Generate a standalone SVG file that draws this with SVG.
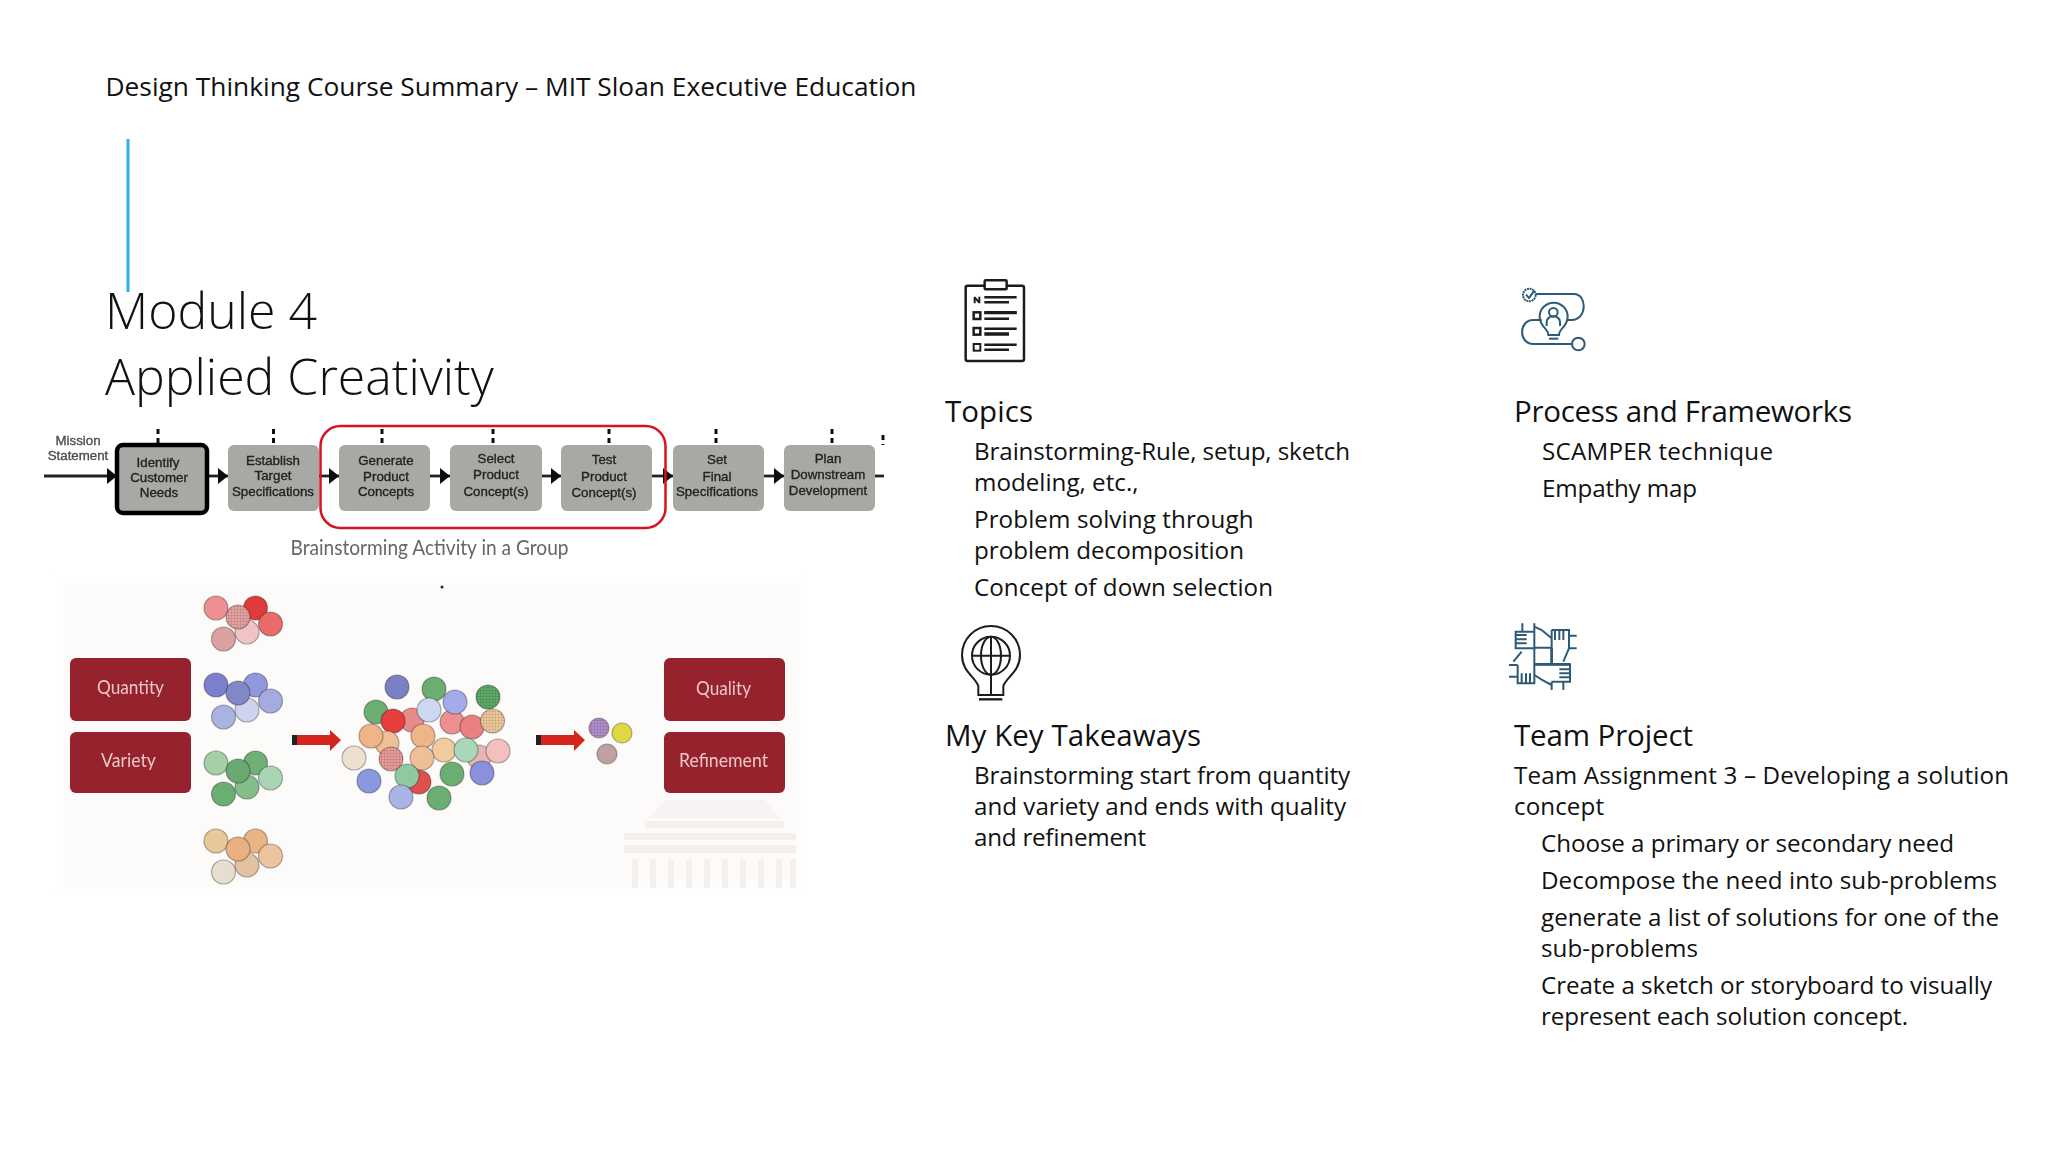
<svg xmlns="http://www.w3.org/2000/svg" width="2048" height="1152" viewBox="0 0 2048 1152">
<style>
text{font-family:"Open Sans","Noto Sans","Liberation Sans",sans-serif;fill:#111}
.t{font-size:26.3px}
.h{font-size:50px;font-weight:300}
.s{font-size:29.5px}
.b{font-size:24.2px;transform:translateY(-0.8px)}
.n{font-family:"Liberation Sans",Arial,sans-serif;font-size:13.3px;fill:#222;stroke:#222;stroke-width:.35;text-anchor:middle}
.m{fill:#4c4c4c;stroke:#4c4c4c}
.box{fill:#a8a8a5}
.con{stroke:#222;stroke-width:2.8;fill:none}
.con2{stroke:#111;stroke-width:3;stroke-dasharray:5 4;fill:none}
.rb{fill:#96202f}
.rt{font-family:"Lato","Open Sans",sans-serif;font-size:20px;fill:#ecc8c8}
circle.d{stroke:#000;stroke-opacity:.3;stroke-width:1.2}
.wm{fill:#f3f0ee}
.ic1{fill:none;stroke:#1c1c1c;stroke-width:7.5}
.ic2{fill:none;stroke:#2e5a78;stroke-width:6}
</style>
<defs>
<marker id="ah" markerWidth="10" markerHeight="16" refX="10" refY="8" orient="auto" markerUnits="userSpaceOnUse"><path d="M0 0L10 8L0 16Z" fill="#111"/></marker>
<pattern id="hat" width="3" height="3" patternUnits="userSpaceOnUse"><path d="M0 0H3M0 0V3" stroke="#000" stroke-opacity=".22" stroke-width=".8" fill="none"/></pattern>
<filter id="bl" x="-5%" y="-5%" width="110%" height="110%"><feGaussianBlur stdDeviation=".7"/></filter>
<filter id="bs" x="-5%" y="-5%" width="110%" height="110%"><feGaussianBlur stdDeviation=".55"/></filter>
<filter id="bg" x="-5%" y="-5%" width="110%" height="110%"><feGaussianBlur stdDeviation="5"/></filter>
</defs>
<rect width="2048" height="1152" fill="#fff"/>
<text class="t" x="105.500" y="96" textLength="811">Design Thinking Course Summary – MIT Sloan Executive Education</text>
<rect x="126.500" y="139" width="3" height="153" fill="#2bb3e6"/>
<text class="h" x="105" y="329">Module 4</text>
<text class="h" x="105" y="395">Applied Creativity</text>

<g id="process-chain" filter="url(#bl)">
<g id="connectors">
<path class="con" d="M44 476H117" marker-end="url(#ah)"/>
<path class="con" d="M207 476H228" marker-end="url(#ah)"/>
<path class="con" d="M319 476H339" marker-end="url(#ah)"/>
<path class="con" d="M430 476H450" marker-end="url(#ah)"/>
<path class="con" d="M542 476H561" marker-end="url(#ah)"/>
<path class="con" d="M652 476H673" marker-end="url(#ah)"/>
<path class="con" d="M764 476H784" marker-end="url(#ah)"/>
<path class="con" d="M875 476H884"/>
<path class="con2" d="M158 429V445M273.500 429V445M382 429V445M493 429V445M609 429V445M716 429V445M832 429V445M883 435V445"/>
</g>
<text class="n m"><tspan x="78" y="445">Mission</tspan><tspan x="78" y="460">Statement</tspan></text>
<g id="identify"><rect x="117" y="445" width="90" height="68" rx="6" fill="#a8a8a5" stroke="#000" stroke-width="4.500"/><text class="n"><tspan x="158" y="467">Identify</tspan><tspan x="159" y="482">Customer</tspan><tspan x="159" y="497">Needs</tspan></text></g>
<g id="establish"><rect class="box" x="228" y="445" width="91" height="66" rx="6"/><text class="n"><tspan x="273" y="465">Establish</tspan><tspan x="273" y="480">Target</tspan><tspan x="273" y="496">Specifications</tspan></text></g>
<g id="generate"><rect class="box" x="339" y="445" width="91" height="66" rx="6"/><text class="n"><tspan x="386" y="465">Generate</tspan><tspan x="386" y="481">Product</tspan><tspan x="386" y="496">Concepts</tspan></text></g>
<g id="select"><rect class="box" x="450" y="445" width="92" height="66" rx="6"/><text class="n"><tspan x="496" y="463">Select</tspan><tspan x="496" y="479">Product</tspan><tspan x="496" y="496">Concept(s)</tspan></text></g>
<g id="test"><rect class="box" x="561" y="445" width="91" height="66" rx="6"/><text class="n"><tspan x="604" y="464">Test</tspan><tspan x="604" y="481">Product</tspan><tspan x="604" y="497">Concept(s)</tspan></text></g>
<g id="set"><rect class="box" x="673" y="445" width="91" height="66" rx="6"/><text class="n"><tspan x="717" y="464">Set</tspan><tspan x="717" y="481">Final</tspan><tspan x="717" y="496">Specifications</tspan></text></g>
<g id="plan"><rect class="box" x="784" y="445" width="91" height="66" rx="6"/><text class="n"><tspan x="828" y="463">Plan</tspan><tspan x="828" y="479">Downstream</tspan><tspan x="828" y="495">Development</tspan></text></g>
</g>
<rect id="highlight" x="320.500" y="426" width="345" height="102" rx="20" fill="none" stroke="#d8121f" stroke-width="2.500"/>
<text x="290.500" y="555" font-size="22" textLength="278" lengthAdjust="spacingAndGlyphs" style="font-family:Lato,sans-serif;fill:#666" filter="url(#bs)">Brainstorming Activity in a Group</text>

<rect x="62" y="582" width="736" height="306" fill="#fdfbfa" filter="url(#bg)"/>
<g id="funnel" filter="url(#bs)">
<path class="wm" d="M665 800H765L780 818H649Z" fill-opacity=".7"/>
<rect class="wm" x="645" y="821" width="139" height="7"/><rect class="wm" x="624" y="833" width="172" height="7"/><rect class="wm" x="624" y="845" width="172" height="8"/>
<path class="wm" d="M632 859h6v29h-6zM650 859h6v29h-6zM668 859h6v29h-6zM686 859h6v29h-6zM704 859h6v29h-6zM722 859h6v29h-6zM740 859h6v29h-6zM758 859h6v29h-6zM776 859h6v29h-6zM790 859h6v29h-6z"/>
<circle cx="442" cy="587" r="1.500" fill="#222"/>
<g id="quantity"><rect class="rb" x="70" y="658" width="121" height="63" rx="6"/><text class="rt" x="97" y="694" textLength="67" lengthAdjust="spacingAndGlyphs">Quantity</text></g>
<g id="variety"><rect class="rb" x="70" y="732" width="121" height="61" rx="6"/><text class="rt" x="101" y="767" textLength="55" lengthAdjust="spacingAndGlyphs">Variety</text></g>
<g id="quality"><rect class="rb" x="664" y="658" width="121" height="63" rx="6"/><text class="rt" x="696" y="695" textLength="55" lengthAdjust="spacingAndGlyphs">Quality</text></g>
<g id="refinement"><rect class="rb" x="664" y="732" width="121" height="61" rx="6"/><text class="rt" x="679" y="767" textLength="89" lengthAdjust="spacingAndGlyphs">Refinement</text></g>
<g id="cluster-red">
<circle class="d" r="12" cx="216" cy="608" fill="#ee8f94"/><circle class="d" r="12" cx="255.500" cy="608" fill="#e03a3a"/><circle class="d" r="12" cx="270.500" cy="624" fill="#e86a6a"/><circle class="d" r="12" cx="223.500" cy="639" fill="#dba0a0"/><circle class="d" r="12" cx="247" cy="632" fill="#f0c4c4"/><circle class="d" r="12" cx="238" cy="617" fill="#e5a0a0"/><circle r="12" cx="238" cy="617" fill="url(#hat)"/>
</g>
<g id="cluster-blue">
<circle class="d" r="12" cx="216" cy="685" fill="#7c80cc"/><circle class="d" r="12" cx="255.500" cy="685" fill="#8f98dc"/><circle class="d" r="12" cx="270.500" cy="701" fill="#a4abe0"/><circle class="d" r="12" cx="223.500" cy="717" fill="#a9b3e0"/><circle class="d" r="12" cx="247" cy="710" fill="#cdd3ec"/><circle class="d" r="12" cx="238" cy="693" fill="#8088c8"/>
</g>
<g id="cluster-green">
<circle class="d" r="12" cx="216" cy="763" fill="#a5d0a5"/><circle class="d" r="12" cx="255.500" cy="763" fill="#6fb077"/><circle class="d" r="12" cx="270.500" cy="778" fill="#aad5b5"/><circle class="d" r="12" cx="223.500" cy="794" fill="#6aae72"/><circle class="d" r="12" cx="247" cy="787" fill="#84bd8a"/><circle class="d" r="12" cx="238" cy="771" fill="#6aaa70"/>
</g>
<g id="cluster-orange">
<circle class="d" r="12" cx="216" cy="841" fill="#e8c79a"/><circle class="d" r="12" cx="255.500" cy="841" fill="#e9b585"/><circle class="d" r="12" cx="270.500" cy="856" fill="#eec49e"/><circle class="d" r="12" cx="223.500" cy="872" fill="#e8ded0"/><circle class="d" r="12" cx="247" cy="865" fill="#e3c2a2"/><circle class="d" r="12" cx="238" cy="849" fill="#e9b182"/>
</g>
<g id="cluster-mixed">
<circle class="d" r="12" cx="397" cy="687" fill="#7a80c4"/><circle class="d" r="12" cx="434" cy="689" fill="#6aae72"/><circle class="d" r="12" cx="488" cy="697" fill="#5fa868"/><circle class="d" r="12" cx="452" cy="722" fill="#ee9090"/><circle class="d" r="12" cx="455" cy="702" fill="#a4abe8"/><circle class="d" r="12" cx="412" cy="720" fill="#e88a8a"/><circle class="d" r="12" cx="429" cy="710" fill="#cdd8f0"/><circle class="d" r="12" cx="376" cy="712" fill="#6aae72"/><circle class="d" r="12" cx="393" cy="721" fill="#e63c3c"/><circle class="d" r="12" cx="472" cy="727" fill="#ea8080"/><circle class="d" r="12" cx="492.500" cy="721" fill="#efc79a"/><circle class="d" r="12" cx="387" cy="743" fill="#efc098"/><circle class="d" r="12" cx="371" cy="736" fill="#efb588"/><circle class="d" r="12" cx="423" cy="736" fill="#efb588"/><circle class="d" r="12" cx="479" cy="757" fill="#e9b5b5"/><circle class="d" r="12" cx="444" cy="750" fill="#efcb9f"/><circle class="d" r="12" cx="466" cy="750" fill="#a8d8b8"/><circle class="d" r="12" cx="498" cy="751" fill="#f3c0c0"/><circle class="d" r="12" cx="354" cy="758" fill="#eee0d0"/><circle class="d" r="12" cx="391" cy="759" fill="#e89a9a"/><circle class="d" r="12" cx="422" cy="758" fill="#efc098"/><circle class="d" r="12" cx="482" cy="773" fill="#8a90dc"/><circle class="d" r="12" cx="452" cy="774" fill="#6aae72"/><circle class="d" r="12" cx="419" cy="782" fill="#e05050"/><circle class="d" r="12" cx="407" cy="776" fill="#8ec9a0"/><circle class="d" r="12" cx="369" cy="781" fill="#8a98e0"/><circle class="d" r="12" cx="401" cy="797" fill="#a8b4e4"/><circle class="d" r="12" cx="439" cy="798" fill="#6aae72"/>
<circle r="12" cx="488" cy="697" fill="url(#hat)"/><circle r="12" cx="492.500" cy="721" fill="url(#hat)"/><circle r="12" cx="391" cy="759" fill="url(#hat)"/>
</g>
<g id="cluster-final">
<circle class="d" r="10" cx="599" cy="728" fill="#b08cc8"/><circle r="10" cx="599" cy="728" fill="url(#hat)"/><circle class="d" r="10" cx="622" cy="733" fill="#e0d840"/><circle class="d" r="10" cx="607" cy="754" fill="#c0a0a0"/>
</g>
<g id="funnel-arrows">
<path d="M292 735H330V730L341 740L330 751V745H292Z" fill="#d4281c"/><rect x="292" y="735" width="5" height="10" fill="#222"/>
<path d="M536 735H574V730L585 740L574 751V745H536Z" fill="#d4281c"/><rect x="536" y="735" width="5" height="10" fill="#222"/>
</g>
</g>

<g id="topics">
<g transform="translate(940 270) scale(.3333)" class="ic1" filter="url(#bs)">
<rect x="77" y="47" width="175" height="226" rx="6"/><rect x="134" y="31" width="66" height="27" rx="3" fill="#fff"/>
<path d="M133 82H230M133 97H207M133 128H230" /><path d="M133 128H230M133 192H207" stroke-width="10"/><path d="M133 146H207M133 176H230M133 224H230M133 239H207"/>
<path d="M104 80V100M118 80V100M104 82L118 98" stroke-width="6"/><rect x="101" y="127" width="20" height="20"/><rect x="101" y="174" width="20" height="20"/><rect x="101" y="222" width="20" height="20" stroke-width="6"/>
</g>
<text class="s" x="945" y="422" textLength="88">Topics</text>
<text class="b" x="974" y="461" textLength="376">Brainstorming-Rule, setup, sketch</text>
<text class="b" x="974" y="492" textLength="164.500">modeling, etc.,</text>
<text class="b" x="974" y="529" textLength="279.500">Problem solving through</text>
<text class="b" x="974" y="560" textLength="270">problem decomposition</text>
<text class="b" x="974" y="597" textLength="299">Concept of down selection</text>
</g>
<g id="process">
<g transform="translate(1500 270) scale(.3333)" class="ic2" filter="url(#bs)">
<circle cx="88" cy="75" r="19" stroke-dasharray="6 2"/><path d="M78 74L87 84L103 62"/>
<path d="M108 72H222C262 72 262 150 215 150H200M125 150H100C55 150 55 222 100 222H215"/><circle cx="235" cy="222" r="19"/>
<path d="M145 195C145 175 119 170 119 140A42 42 0 0 1 203 140C203 170 177 175 177 195Z"/><path d="M147 206H175"/>
<circle cx="160" cy="127" r="13"/><path d="M140 168V155A20 16 0 0 1 180 155V168"/>
</g>
<text class="s" x="1514" y="422" textLength="338">Process and Frameworks</text>
<text class="b" x="1542" y="461" textLength="231">SCAMPER technique</text>
<text class="b" x="1542" y="498" textLength="155">Empathy map</text>
</g>
<g id="takeaways">
<g transform="translate(940 610) scale(.3333)" class="ic1" filter="url(#bs)" style="stroke-width:6">
<path d="M115 255V228C105 200 66 185 66 135A87 87 0 1 1 240 135C240 185 200 200 190 228V255Z"/><path d="M117 268H187" stroke-width="7"/>
<circle cx="153" cy="137" r="57"/><ellipse cx="153" cy="137" rx="30" ry="57"/><path d="M153 80V255M97 137H210"/>
</g>
<text class="s" x="945" y="746" textLength="256">My Key Takeaways</text>
<text class="b" x="974" y="785" textLength="376">Brainstorming start from quantity</text>
<text class="b" x="974" y="816" textLength="372">and variety and ends with quality</text>
<text class="b" x="974" y="847" textLength="172">and refinement</text>
</g>
<g id="team">
<g transform="translate(1500 610) scale(.3333)" class="ic2" filter="url(#bs)">
<path d="M47 65H103V115H47ZM50 75H80M50 88H80M50 100H80M67 40V65M103 40V65M103 50L125 60L155 85"/>
<path d="M155 60H207V115L190 155M155 60V163M165 62V90M178 62V90M190 62V90M207 77H230M207 115H230"/>
<path d="M103 163H210V215H155M178 178H210M178 190H210M178 202H210M155 215V240M190 215V240M103 195L130 212L155 225" />
<path d="M103 113V220H53V165M103 113H155M65 190V220M78 190V220M90 190V220M27 165H53M27 200H53M40 155L65 125"/>
<path d="M103 163H210M155 113V163" stroke-width="8"/>
</g>
<text class="s" x="1514" y="746" textLength="179">Team Project</text>
<text class="b" x="1514" y="785" textLength="495">Team Assignment 3 – Developing a solution</text>
<text class="b" x="1514" y="816" textLength="90">concept</text>
<text class="b" x="1541" y="853" textLength="413">Choose a primary or secondary need</text>
<text class="b" x="1541" y="890" textLength="456">Decompose the need into sub-problems</text>
<text class="b" x="1541" y="927" textLength="458">generate a list of solutions for one of the</text>
<text class="b" x="1541" y="958" textLength="157">sub-problems</text>
<text class="b" x="1541" y="995" textLength="451">Create a sketch or storyboard to visually</text>
<text class="b" x="1541" y="1026" textLength="367">represent each solution concept.</text>
</g>
</svg>
